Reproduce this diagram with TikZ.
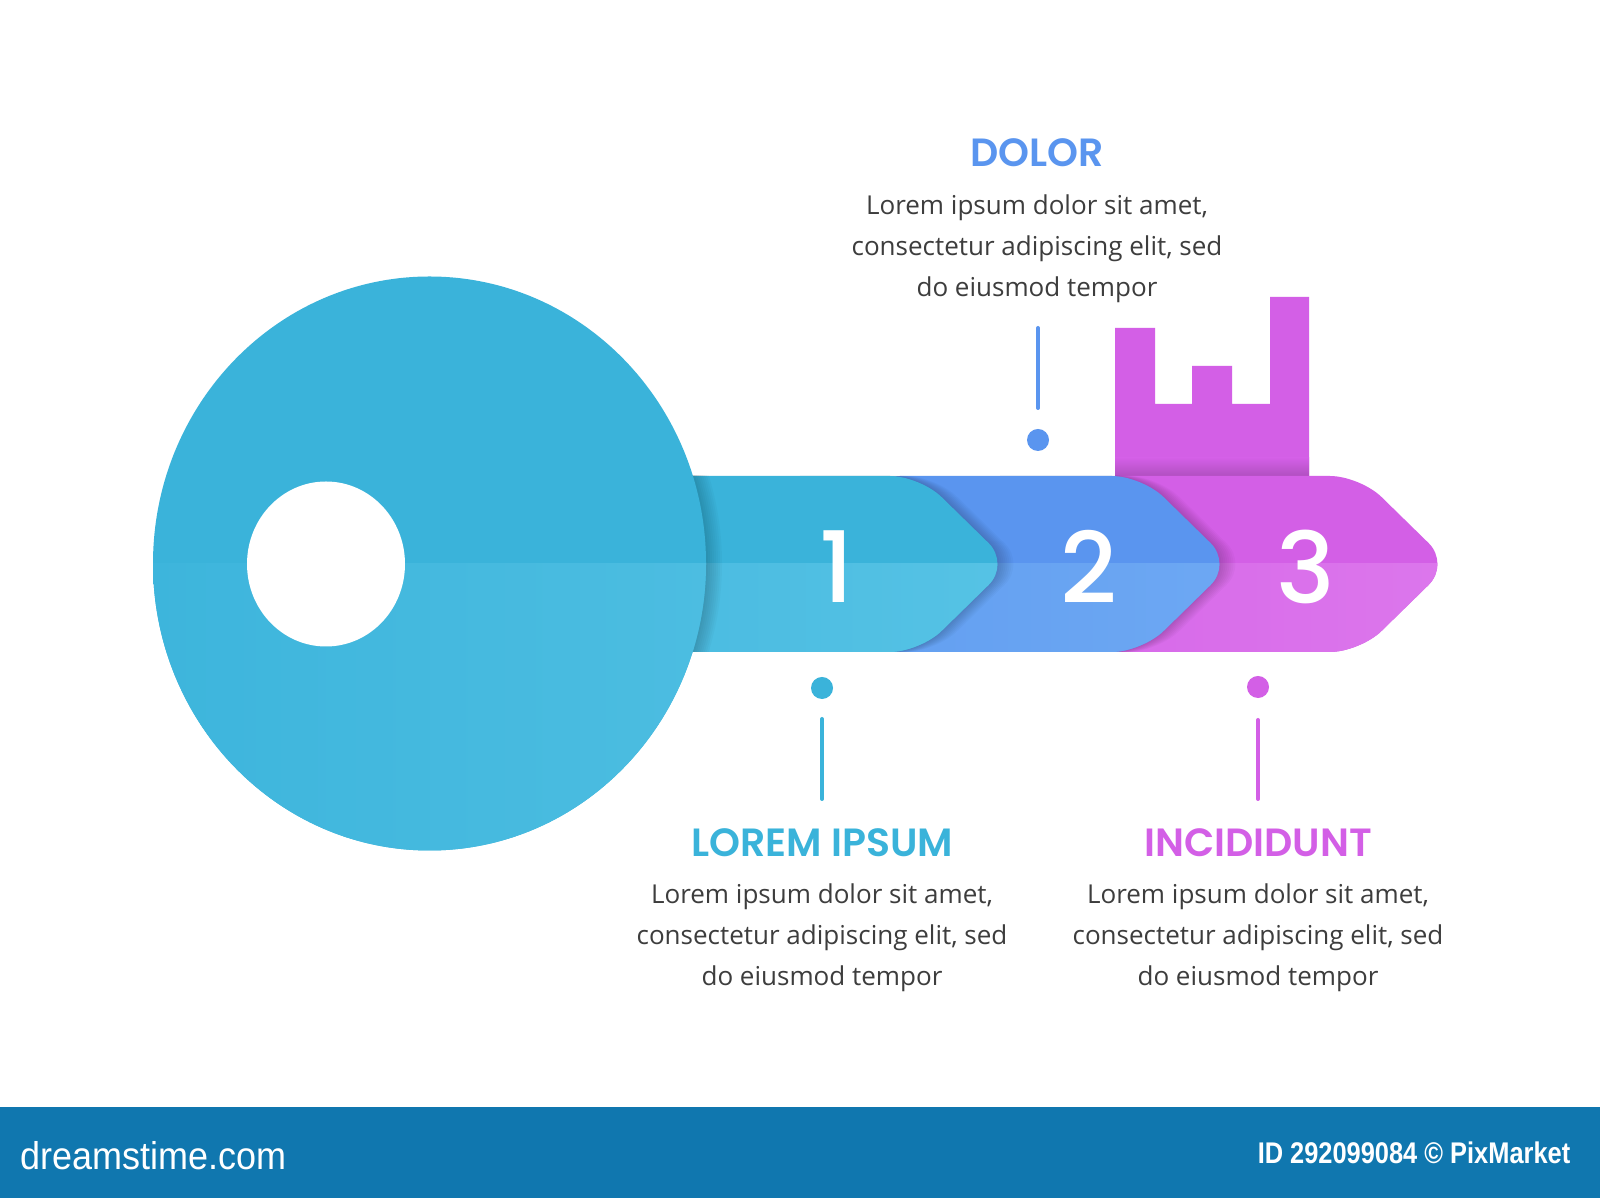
\documentclass[tikz,border=0pt]{standalone}
\usepackage{fontspec}
\setmainfont{Open Sans}
\newfontfamily\titlefont{Poppins SemiBold}
\newfontfamily\numfont{Poppins Medium}
\newfontfamily\barfont{Liberation Sans}
\definecolor{keyc}{HTML}{3AB3DA}
\definecolor{keyLL}{HTML}{3DB5DC}
\definecolor{keyLR}{HTML}{4CBDE1}
\definecolor{keyAL}{HTML}{48BAE0}
\definecolor{keyAR}{HTML}{56C3E5}
\definecolor{bluec}{HTML}{5A95EF}
\definecolor{blueL}{HTML}{639FF1}
\definecolor{blueR}{HTML}{6DA8F3}
\definecolor{magc}{HTML}{D35FE6}
\definecolor{magL}{HTML}{D769E9}
\definecolor{magR}{HTML}{DC77EC}
\definecolor{txt}{HTML}{3D3D3D}
\definecolor{barc}{HTML}{1077AF}
\newcommand\arrowshape[2]{(#1,476) -- ({#2-90},476) -- (#2,564) -- ({#2-90},652) -- (#1,652) -- cycle}
\begin{document}
\begin{tikzpicture}[x=0.01cm,y=-0.01cm,
  body/.style={align=center,inner sep=0pt,text=txt,font=\fontsize{7.4pt}{11.65pt}\selectfont},
  title/.style={inner sep=0pt,font=\titlefont\fontsize{11.2pt}{12pt}\selectfont},
  num/.style={inner sep=0pt,text=white,font=\numfont\fontsize{28pt}{30pt}\selectfont},
  dot/.style={circle,inner sep=0pt,minimum size=0.22cm},
  conn/.style={line width=0.04cm,line cap=round},
  arr/.style={rounded corners=0.3cm},
  shadowlayer/.style={black,opacity=0.025}]
\useasboundingbox (0,0) rectangle (1600,1198);
\fill[white] (0,0) rectangle (1600,1198);

% key bit
\fill[magc] (1115,478) -- (1115,328) -- (1155,328) -- (1155,404) -- (1192,404) -- (1192,366)
  -- (1232,366) -- (1232,404) -- (1270,404) -- (1270,297) -- (1309,297) -- (1309,478) -- cycle;
\shade[top color=magc, bottom color=magc!82!black] (1115,458) rectangle (1309,478);

% arrow 3
\begin{scope}
  \clip[arr] \arrowshape{1090}{1450};
  \fill[magc] (1080,470) rectangle (1460,660);
  \shade[left color=magL, right color=magR] (1080,564) rectangle (1460,660);
\end{scope}
% shadow of arrow 2
\begin{scope}
  \clip (1000,476) rectangle (1460,652);
  \foreach \s in {2,4,...,16} \fill[shadowlayer,arr,xshift=\s*0.01cm] \arrowshape{870}{1232};
\end{scope}
% arrow 2
\begin{scope}
  \clip[arr] \arrowshape{870}{1232};
  \fill[bluec] (860,470) rectangle (1240,660);
  \shade[left color=blueL, right color=blueR] (860,564) rectangle (1240,660);
\end{scope}
% shadow of arrow 1
\begin{scope}
  \clip (800,476) rectangle (1240,652);
  \foreach \s in {2,4,...,16} \fill[shadowlayer,arr,xshift=\s*0.01cm] \arrowshape{600}{1010};
\end{scope}
% arrow 1
\begin{scope}
  \clip[arr] \arrowshape{600}{1010};
  \fill[keyc] (590,470) rectangle (1020,660);
  \shade[left color=keyAL, right color=keyAR] (590,564) rectangle (1020,660);
\end{scope}
% shadow of the key head
\begin{scope}
  \clip (600,476) rectangle (800,652);
  \foreach \s in {2,4,...,16} \fill[shadowlayer,xshift=\s*0.01cm] (429.5,563.5) ellipse [x radius=276.5, y radius=287];
\end{scope}
% key head
\fill[keyc] (429.5,563.5) ellipse [x radius=276.5, y radius=287];
\begin{scope}
  \clip (429.5,563.5) ellipse [x radius=276.5, y radius=287];
  \shade[left color=keyLL, right color=keyLR] (150,564) rectangle (710,855);
\end{scope}
\fill[white] (326,564) ellipse [x radius=79, y radius=82.5];

% numbers
\node[num] (n1) at (837,567) {1};
\node[num] (n2) at (1089,567) {2};
\node[num] (n3) at (1306,567) {3};

% step 1 label
\node[dot,fill=keyc] (d1) at (822,688) {};
\coordinate (l1a) at (822,719);
\coordinate (l1b) at (822,799);
\draw[conn,draw=keyc] (l1a) -- (l1b);
\node[title,text=keyc] (t1) at (822,843) {LOREM IPSUM};
\node[body] (b1) at (822,938) {Lorem ipsum dolor sit amet,\\consectetur adipiscing elit, sed\\do eiusmod tempor};

% step 2 label
\node[dot,fill=bluec] (d2) at (1038,440) {};
\coordinate (l2a) at (1038,328);
\coordinate (l2b) at (1038,408);
\draw[conn,draw=bluec] (l2a) -- (l2b);
\node[title,text=bluec] (t2) at (1037,153) {DOLOR};
\node[body] (b2) at (1037,249) {Lorem ipsum dolor sit amet,\\consectetur adipiscing elit, sed\\do eiusmod tempor};

% step 3 label
\node[dot,fill=magc] (d3) at (1258,687) {};
\coordinate (l3a) at (1258,720);
\coordinate (l3b) at (1258,799);
\draw[conn,draw=magc] (l3a) -- (l3b);
\node[title,text=magc] (t3) at (1258,843) {INCIDIDUNT};
\node[body] (b3) at (1258,938) {Lorem ipsum dolor sit amet,\\consectetur adipiscing elit, sed\\do eiusmod tempor};

% bottom bar
\fill[barc] (0,1107) rectangle (1600,1198);
\node[anchor=west,inner sep=0pt,text=white,font=\barfont\fontsize{11pt}{12pt}\selectfont] (wm) at (20,1156) {\scalebox{0.93}[1]{dreamstime.com}};
\node[anchor=east,inner sep=0pt,text=white,font=\barfont\bfseries\fontsize{8.5pt}{10pt}\selectfont] (id) at (1571,1153) {\scalebox{0.85}[1]{ID 292099084 © PixMarket}};
\end{tikzpicture}
\end{document}
